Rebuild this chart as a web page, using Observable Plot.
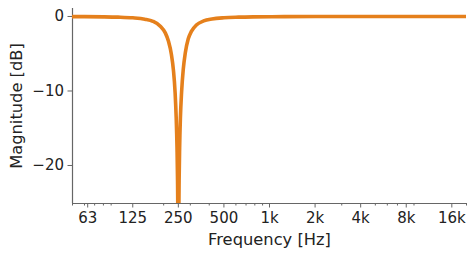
<!DOCTYPE html>
<html>
<head>
<meta charset="utf-8">
<script src="https://cdn.jsdelivr.net/npm/d3@7"></script>
<script src="https://cdn.jsdelivr.net/npm/@observablehq/plot@0.6"></script>
<style>
  html, body { margin: 0; padding: 0; background: #fff; }
  #chart svg { display: block; }
</style>
</head>
<body>
<div id="chart"></div>
<script>
// Frequency response of a notch filter
const freqs = [50, 80, 100, 125, 150, 170, 190, 205, 215, 225, 232, 238, 242, 245, 247, 248.5, 250, 251.5, 253, 255, 258, 262.6, 269.4, 277.8, 290.7, 304.9, 328.9, 367.6, 416.7, 500, 625, 781, 1250, 2000, 5000, 20000];
const mags  = [-0.02, -0.05, -0.09, -0.18, -0.36, -0.65, -1.3, -2.2, -3.3, -5.1, -7.2, -10.2, -13.6, -17.6, -22, -28, -40, -28, -22, -17.6, -13.6, -10.2, -7.1, -4.9, -3.0, -2.0, -1.15, -0.6, -0.34, -0.17, -0.09, -0.05, -0.02, -0.01, 0, 0];

const xTicks = [63, 125, 250, 500, 1000, 2000, 4000, 8000, 16000];
const xTickLabels = ["63", "125", "250", "500", "1k", "2k", "4k", "8k", "16k"];
const xMinorTicks = [50, 60, 70, 80, 90, 200, 300, 400, 600, 700, 800, 900, 3000, 5000, 6000, 7000, 9000, 20000];
const yTicks = [0, -10, -20];
const xDomain = [50, 20000];
const yDomain = [-25.1, 1.07];

const data = freqs.map((f, i) => ({f, m: mags[i]}));
const xTickData = xTicks.map((t, i) => ({t, label: xTickLabels[i]}));
const axisColor = "#666";
const font = "'DejaVu Sans', sans-serif";

const chart = Plot.plot({
  width: 474,
  height: 257,
  marginLeft: 72,
  marginRight: 8,
  marginTop: 8,
  marginBottom: 54,
  style: {fontFamily: font, fontSize: "15px", color: "#222", background: "#fff"},
  x: {type: "log", domain: xDomain},
  y: {domain: yDomain},
  marks: [
    Plot.axisX({ticks: xMinorTicks, tickSize: 2.5, tickFormat: () => "", label: null, stroke: axisColor}),
    Plot.axisX({ticks: xTicks, tickSize: 4.5, tickFormat: () => "", stroke: axisColor,
      label: "Frequency [Hz]", labelAnchor: "center", labelArrow: "none", labelOffset: 41, fontSize: 16.3}),
    Plot.text(xTickData, {x: "t", text: "label", frameAnchor: "bottom", lineAnchor: "top", dy: 8.5, fontSize: 15, fill: "#222"}),
    Plot.axisY({ticks: yTicks, tickSize: 4.5, tickPadding: 4, stroke: axisColor, fontSize: 15,
      label: null}),
    Plot.axisY({ticks: [], label: "Magnitude [dB]", labelAnchor: "center", labelArrow: "none", labelOffset: 62.5, fontSize: 16.3}),
    Plot.ruleX([xDomain[0]], {stroke: axisColor, strokeWidth: 1.2}),
    Plot.ruleY([yDomain[0]], {stroke: axisColor, strokeWidth: 1.2}),
    Plot.line(data, {x: "f", y: "m", stroke: "#e5801c", strokeWidth: 3.6, curve: "monotone-x", clip: true})
  ]
});
document.getElementById("chart").appendChild(chart);
</script>
</body>
</html>
